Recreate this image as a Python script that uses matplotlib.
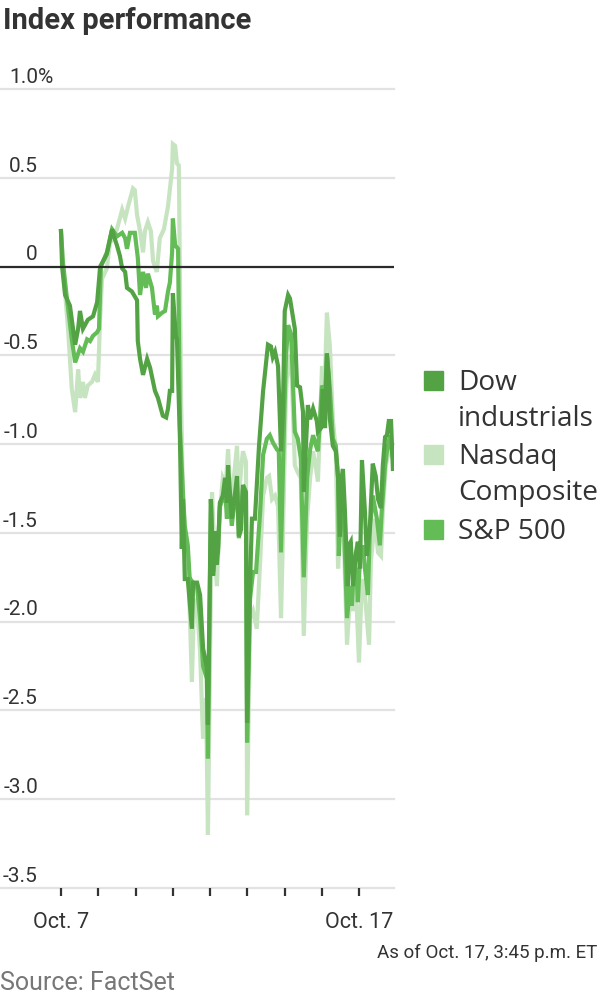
import matplotlib
matplotlib.use("Agg")
import matplotlib.pyplot as plt
from matplotlib.patches import Rectangle

# trading-day position (0 = Oct. 7 open), percent change
dow = [(0.00, 0.20), (0.03, 0.00), (0.11, -0.16), (0.24, -0.22), (0.38, -0.44), (0.46, -0.35),
       (0.51, -0.25), (0.59, -0.35), (0.72, -0.30), (0.86, -0.28), (0.97, -0.20), (1.05, 0.00),
       (1.13, 0.03), (1.23, 0.07), (1.37, 0.21), (1.42, 0.17), (1.50, 0.12), (1.58, 0.06),
       (1.64, -0.01), (1.72, -0.03), (1.77, -0.12), (1.90, -0.14), (2.04, -0.19), (2.06, -0.42),
       (2.12, -0.52), (2.20, -0.61), (2.31, -0.52), (2.39, -0.57), (2.52, -0.70), (2.60, -0.74),
       (2.73, -0.84), (2.82, -0.85), (2.87, -0.80), (2.92, -0.70), (2.98, -0.70), (3.00, -0.15),
       (3.08, -0.39), (3.11, -0.41), (3.19, -0.97), (3.24, -1.59), (3.27, -1.31), (3.32, -1.76),
       (3.40, -1.76), (3.51, -2.04), (3.54, -1.78), (3.65, -1.78), (3.73, -1.85), (3.81, -2.15),
       (3.91, -2.26), (3.94, -2.58), (4.02, -1.31), (4.08, -1.74), (4.13, -1.49), (4.18, -1.68),
       (4.21, -1.59), (4.26, -1.33), (4.34, -1.29), (4.40, -1.19), (4.45, -1.33), (4.48, -1.12),
       (4.53, -1.27), (4.58, -1.42), (4.66, -1.29), (4.72, -1.18), (4.77, -1.52), (4.83, -1.48),
       (4.88, -1.23), (4.96, -1.27), (4.99, -2.57), (5.07, -1.78), (5.12, -1.42), (5.20, -1.42),
       (5.31, -1.01), (5.42, -0.70), (5.47, -0.60), (5.55, -0.44), (5.63, -0.45), (5.68, -0.51),
       (5.74, -0.48), (5.82, -0.56), (5.90, -1.04), (5.95, -0.82), (6.00, -0.25), (6.09, -0.16),
       (6.14, -0.18), (6.27, -0.35), (6.33, -0.67), (6.41, -0.68), (6.49, -0.82), (6.51, -1.27),
       (6.62, -0.78), (6.68, -0.86), (6.76, -0.80), (6.86, -0.87), (6.89, -0.93), (6.97, -0.91),
       (7.02, -0.69), (7.08, -0.91), (7.13, -0.49), (7.18, -0.63), (7.21, -0.86), (7.29, -1.01),
       (7.37, -1.04), (7.43, -1.19), (7.48, -1.52), (7.53, -1.18), (7.56, -1.14), (7.61, -1.36),
       (7.69, -1.80), (7.72, -1.57), (7.77, -1.55), (7.83, -1.80), (7.91, -1.61), (7.96, -1.55),
       (8.02, -1.70), (8.07, -1.09), (8.15, -1.38), (8.20, -1.63), (8.28, -1.48), (8.36, -1.11),
       (8.44, -1.18), (8.50, -1.31), (8.58, -1.36), (8.63, -1.12), (8.69, -0.96), (8.74, -0.95),
       (8.79, -0.87), (8.85, -0.87), (8.90, -1.14)]

sp500 = [(0.00, 0.20), (0.05, 0.03), (0.16, -0.18), (0.29, -0.41), (0.38, -0.54), (0.51, -0.46),
         (0.59, -0.48), (0.70, -0.41), (0.78, -0.42), (0.86, -0.39), (0.97, -0.37), (1.02, -0.35),
         (1.07, 0.00), (1.13, 0.03), (1.23, 0.08), (1.37, 0.21), (1.50, 0.17), (1.64, 0.19),
         (1.72, 0.16), (1.77, 0.10), (1.85, 0.19), (1.98, 0.19), (2.06, 0.05), (2.12, -0.16),
         (2.20, -0.03), (2.28, -0.12), (2.33, -0.04), (2.44, -0.12), (2.52, -0.27), (2.57, -0.22),
         (2.60, -0.28), (2.71, -0.26), (2.79, -0.25), (2.87, -0.14), (2.92, -0.09), (2.98, 0.08),
         (3.00, 0.27), (3.06, 0.12), (3.14, 0.10), (3.19, -0.91), (3.27, -1.27), (3.32, -1.46),
         (3.40, -1.57), (3.51, -1.97), (3.54, -1.78), (3.65, -1.81), (3.73, -1.98), (3.81, -2.25),
         (3.91, -2.32), (3.94, -2.77), (4.02, -1.31), (4.08, -1.72), (4.13, -1.65), (4.21, -1.61),
         (4.26, -1.35), (4.34, -1.31), (4.40, -1.25), (4.45, -1.42), (4.48, -1.19), (4.58, -1.46),
         (4.66, -1.31), (4.72, -1.24), (4.77, -1.53), (4.88, -1.25), (4.96, -1.31), (4.99, -2.68),
         (5.07, -1.87), (5.15, -1.72), (5.23, -1.72), (5.34, -1.38), (5.42, -1.06), (5.52, -0.97),
         (5.60, -0.95), (5.68, -0.99), (5.79, -1.03), (5.84, -1.04), (5.90, -1.61), (5.97, -0.97),
         (6.03, -0.52), (6.09, -0.33), (6.17, -0.38), (6.27, -0.93), (6.35, -0.97), (6.43, -1.08),
         (6.51, -1.75), (6.60, -1.19), (6.68, -1.03), (6.76, -0.95), (6.84, -1.01), (6.89, -1.04),
         (7.00, -0.67), (7.08, -0.72), (7.13, -0.49), (7.21, -0.69), (7.29, -0.97), (7.37, -1.01),
         (7.43, -1.19), (7.45, -1.63), (7.51, -1.23), (7.56, -1.27), (7.67, -1.98), (7.75, -1.80),
         (7.80, -1.91), (7.86, -1.66), (7.93, -1.75), (7.96, -1.89), (8.02, -1.63), (8.10, -1.57),
         (8.15, -1.70), (8.23, -1.85), (8.28, -1.49), (8.36, -1.29), (8.47, -1.42), (8.55, -1.57),
         (8.60, -1.38), (8.69, -1.12), (8.74, -1.04), (8.82, -0.95), (8.90, -1.08)]

nasdaq = [(0.00, 0.20), (0.08, -0.07), (0.19, -0.35), (0.29, -0.69), (0.38, -0.82), (0.46, -0.58),
          (0.51, -0.74), (0.59, -0.65), (0.64, -0.74), (0.72, -0.67), (0.83, -0.65), (0.91, -0.61),
          (0.99, -0.65), (1.05, -0.29), (1.10, -0.07), (1.23, -0.01), (1.31, 0.13), (1.42, 0.17),
          (1.50, 0.21), (1.64, 0.32), (1.72, 0.27), (1.80, 0.34), (1.93, 0.44), (1.98, 0.43),
          (2.04, 0.29), (2.12, 0.20), (2.20, 0.08), (2.25, 0.20), (2.33, 0.25), (2.41, 0.20),
          (2.47, 0.03), (2.57, -0.03), (2.65, 0.16), (2.76, 0.21), (2.87, 0.34), (2.98, 0.55),
          (3.00, 0.69), (3.06, 0.68), (3.11, 0.58), (3.16, 0.57), (3.22, -0.74), (3.27, -1.29),
          (3.35, -1.63), (3.43, -1.78), (3.51, -2.34), (3.57, -1.87), (3.67, -1.98), (3.73, -2.17),
          (3.81, -2.66), (3.89, -2.43), (3.94, -3.20), (4.05, -1.27), (4.10, -1.53), (4.18, -1.80),
          (4.26, -1.38), (4.34, -1.19), (4.42, -1.23), (4.48, -1.03), (4.56, -1.36), (4.64, -1.18),
          (4.72, -1.01), (4.77, -1.31), (4.83, -1.14), (4.88, -1.04), (4.96, -1.10), (4.99, -3.09),
          (5.07, -1.98), (5.15, -1.94), (5.25, -2.04), (5.34, -1.66), (5.42, -1.29), (5.52, -1.19),
          (5.58, -1.18), (5.66, -1.31), (5.74, -1.29), (5.82, -1.35), (5.90, -1.98), (5.95, -1.53),
          (6.03, -0.73), (6.09, -0.50), (6.19, -0.63), (6.27, -1.12), (6.35, -1.16), (6.43, -1.19),
          (6.51, -2.08), (6.60, -1.42), (6.68, -1.19), (6.76, -1.04), (6.84, -1.14), (6.89, -1.21),
          (7.00, -0.56), (7.05, -0.82), (7.13, -0.26), (7.21, -0.45), (7.29, -0.86), (7.37, -1.04),
          (7.43, -1.70), (7.48, -1.49), (7.56, -1.36), (7.67, -2.13), (7.75, -1.85), (7.83, -1.94),
          (7.91, -1.81), (7.99, -2.23), (8.07, -1.76), (8.15, -1.85), (8.26, -2.13), (8.31, -1.66),
          (8.42, -1.42), (8.50, -1.61), (8.58, -1.63), (8.63, -1.38), (8.71, -1.12), (8.82, -1.01),
          (8.90, -1.08)]

y_ticks = [1.0, 0.5, 0.0, -0.5, -1.0, -1.5, -2.0, -2.5, -3.0, -3.5]
y_labels = ["1.0", "0.5", "0", "-0.5", "-1.0", "-1.5", "-2.0", "-2.5", "-3.0", "-3.5"]
day_ticks = [0, 1, 2, 3, 4, 5, 6, 7, 8]
day_labels = {0: "Oct. 7", 8: "Oct. 17"}

series = [("Nasdaq Composite", nasdaq, "#c7e4c1"),
          ("S&P 500", sp500, "#63bc55"),
          ("Dow industrials", dow, "#53a345")]
legend_order = [("Dow", "industrials", "#53a345"),
                ("Nasdaq", "Composite", "#c7e4c1"),
                ("S&P 500", None, "#63bc55")]

TEXT = "#333333"
REGULAR = ["Roboto", "DejaVu Sans"]
LEGEND = ["Open Sans", "DejaVu Sans"]

fig = plt.figure(figsize=(6, 10), dpi=100)
ax = fig.add_axes([0, 0.112, 0.6567, 0.799])
ax.set_xlim(-1.635, 8.93)
ax.set_ylim(-3.5, 1.0)
ax.axis("off")

# grid
for v in y_ticks:
    if v == 0:
        ax.axhline(v, color="#2b2b2b", lw=1.6, zorder=3)
    else:
        ax.axhline(v, color="#e2e2e2", lw=1.6, zorder=0, clip_on=False)

for v, lab in zip(y_ticks, y_labels):
    ax.annotate(lab, xy=(0.0964, v), xycoords=("axes fraction", "data"),
                xytext=(0, 4.5), textcoords="offset points", ha="right", va="baseline",
                fontsize=15, color=TEXT, family=REGULAR)
ax.annotate("%", xy=(0.0964, 1.0), xycoords=("axes fraction", "data"),
            xytext=(0, 4.5), textcoords="offset points", ha="left", va="baseline",
            fontsize=15, color=TEXT, family=REGULAR)

for name, data, color in series:
    t, v = zip(*data)
    ax.plot(t, v, color=color, lw=3.0, solid_joinstyle="miter", zorder=2)

# x ticks
for d in day_ticks:
    ax.plot([d], [-3.5], marker=3, markersize=5.5, mew=1.6,
            color=TEXT, clip_on=False, zorder=4)
    if d in day_labels:
        ax.annotate(day_labels[d], xy=(d, -3.5), xycoords="data", xytext=(0, -29),
                    textcoords="offset points", ha="center", va="baseline",
                    fontsize=15.5, color=TEXT, family=REGULAR)

fig.text(0.005, 0.993, "Index performance", ha="left", va="top", fontsize=21,
         fontweight="bold", color=TEXT, family=REGULAR)
fig.text(0.995, 0.042, "As of Oct. 17, 3:45 p.m. ET", ha="right", va="baseline",
         fontsize=13.5, color=TEXT, family=REGULAR)
fig.text(0.0, 0.010, "Source: FactSet", ha="left", va="baseline",
         fontsize=18, color="#777777", family=REGULAR)

# legend
ys = [390, 464, 539]
for (l1, l2, color), yb in zip(legend_order, ys):
    fig.patches.append(Rectangle((424 / 600, 1 - yb / 1000), 19 / 600, 19 / 1000,
                                 transform=fig.transFigure, color=color))
    fig.text(458 / 600, 1 - yb / 1000, l1, ha="left", va="baseline",
             fontsize=20.2, color=TEXT, family=LEGEND)
    if l2:
        fig.text(458 / 600, 1 - (yb + 36) / 1000, l2, ha="left", va="baseline",
                 fontsize=20.2, color=TEXT, family=LEGEND)

fig.savefig("out.png", dpi=100)
